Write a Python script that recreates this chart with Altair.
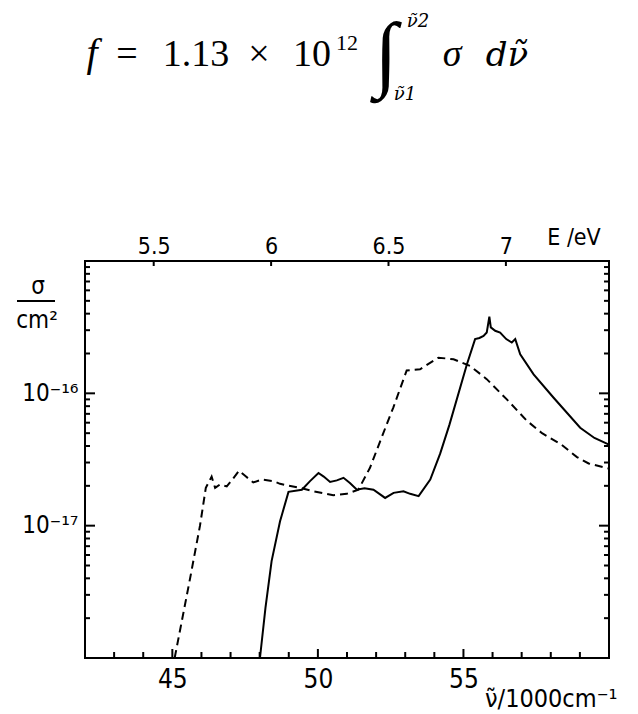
import altair as alt
import pandas as pd

# ---- data (x in 1000 cm^-1, sigma in cm^2) ----
solid_nu = [48.01, 48.20, 48.41, 48.70, 48.76, 48.99, 49.45, 49.73, 50.02, 50.20, 50.42,
            50.65, 50.88, 51.10, 51.34, 51.60, 51.91, 52.31, 52.60, 52.94, 53.17, 53.46,
            53.86, 54.20, 54.52, 55.12, 55.40, 55.55, 55.69, 55.80, 55.89, 55.94, 56.09,
            56.26, 56.47, 56.66, 56.78, 56.95, 57.41, 58.09, 59.01, 59.50, 60.00]
solid_sigma = [1.0e-18, 2.4e-18, 5.4e-18, 1.08e-17, 1.2e-17, 1.8e-17, 1.87e-17, 2.17e-17,
               2.5e-17, 2.35e-17, 2.14e-17, 2.2e-17, 2.3e-17, 2.1e-17, 1.87e-17, 1.92e-17,
               1.87e-17, 1.62e-17, 1.77e-17, 1.82e-17, 1.74e-17, 1.67e-17, 2.23e-17,
               3.5e-17, 5.8e-17, 1.66e-16, 2.57e-16, 2.62e-16, 2.72e-16, 2.88e-16, 3.79e-16,
               3.15e-16, 2.97e-16, 2.88e-16, 2.57e-16, 2.42e-16, 2.57e-16, 1.97e-16,
               1.39e-16, 9.3e-17, 5.5e-17, 4.6e-17, 4.1e-17]

dashed_nu = [45.08, 45.61, 45.95, 46.15, 46.35, 46.47, 46.64, 46.87, 47.04, 47.29, 47.50,
             47.78, 48.07, 48.47, 48.70, 49.39, 49.85, 50.53, 50.99, 51.39, 51.79, 52.36,
             52.59, 53.05, 53.51, 54.14, 54.66, 55.23, 55.80, 56.49, 57.18, 57.70, 58.36,
             58.90, 59.30, 60.00]
dashed_sigma = [1.0e-18, 4.0e-18, 1.0e-17, 1.93e-17, 2.35e-17, 1.93e-17, 2.05e-17, 1.98e-17,
                2.2e-17, 2.6e-17, 2.38e-17, 2.12e-17, 2.23e-17, 2.17e-17, 2.07e-17, 1.93e-17,
                1.82e-17, 1.70e-17, 1.74e-17, 1.87e-17, 2.74e-17, 5.8e-17, 7.8e-17, 1.49e-16,
                1.52e-16, 1.86e-16, 1.81e-16, 1.61e-16, 1.28e-16, 9.0e-17, 6.2e-17, 5.0e-17,
                4.1e-17, 3.3e-17, 2.95e-17, 2.7e-17]

x_major = [45, 50, 55]
x_minor = [43, 44, 46, 47, 48, 49, 51, 52, 53, 54, 56, 57, 58, 59]
y_major = [1e-17, 1e-16]
y_minor = [k * 10.0 ** e for e in (-18, -17, -16) for k in range(2, 10)]
e_ticks = [5.5, 6.0, 6.5, 7.0]          # eV
EV_TO_KCM = 8.0655                      # 1 eV = 8065.5 cm^-1

W, H = 524, 397
SANS = "Liberation Sans Narrow, DejaVu Sans Condensed, Liberation Sans, sans-serif"
SERIF = "Liberation Serif, DejaVu Serif, serif"
GREEK = "DejaVu Serif, Liberation Serif, serif"

xs = alt.Scale(domain=[42, 60], nice=False, zero=False)
ys = alt.Scale(type="log", domain=[1e-18, 1e-15], nice=False)

df_solid = pd.DataFrame({"nu": solid_nu, "sigma": solid_sigma})
df_dashed = pd.DataFrame({"nu": dashed_nu, "sigma": dashed_sigma})

bottom_axis = alt.Axis(values=x_major, ticks=False, domain=False, grid=False, title=None,
                       labelFont=SANS, labelFontSize=26, labelColor="black", labelPadding=8,
                       orient="bottom")
top_axis = alt.Axis(values=[e * EV_TO_KCM for e in e_ticks], ticks=False, domain=False,
                    grid=False, title=None, orient="top",
                    labelExpr="format(datum.value / 8.0655, '.1~f')",
                    labelFont=SANS, labelFontSize=23, labelColor="black", labelPadding=3)
left_axis = alt.Axis(values=y_major, ticks=False, domain=False, grid=False, title=None,
                     labelExpr="datum.value < 5e-17 ? '10⁻¹⁷' : '10⁻¹⁶'",
                     labelFont=SANS, labelFontSize=24, labelColor="black", labelPadding=7)

solid = alt.Chart(df_solid).mark_line(color="black", strokeWidth=2).encode(
    x=alt.X("nu:Q", scale=xs, axis=bottom_axis),
    y=alt.Y("sigma:Q", scale=ys, axis=left_axis))
dashed = alt.Chart(df_dashed).mark_line(color="black", strokeWidth=2, strokeDash=[8, 5]).encode(
    x=alt.X("nu:Q", scale=xs, axis=None),
    y=alt.Y("sigma:Q", scale=ys, axis=None))


def xticks(vals, length, top=False, axis=None):
    df = pd.DataFrame({"nu": vals})
    y0, y1 = (0, length) if top else (H, H - length)
    return alt.Chart(df).mark_rule(color="black", strokeWidth=2).encode(
        x=alt.X("nu:Q", scale=xs, axis=axis), y=alt.value(y0), y2=alt.value(y1))


def yticks(vals, length, right=False):
    df = pd.DataFrame({"sigma": vals})
    x0, x1 = (W, W - length) if right else (0, length)
    return alt.Chart(df).mark_rule(color="black", strokeWidth=2).encode(
        y=alt.Y("sigma:Q", scale=ys, axis=None), x=alt.value(x0), x2=alt.value(x1))


def label(txt, x, y, size, font=SANS, style="normal", align="center"):
    return alt.Chart(pd.DataFrame({"t": [txt]})).mark_text(
        font=font, fontSize=size, fontStyle=style, align=align,
        baseline="alphabetic", color="black").encode(
        text="t:N", x=alt.value(x), y=alt.value(y))


ticks = [
    xticks(x_major, 9), xticks(x_minor, 6),
    xticks([e * EV_TO_KCM for e in e_ticks], 5, top=True, axis=top_axis),
    yticks(y_major, 10), yticks(y_minor, 5),
    yticks(y_major, 10, right=True), yticks(y_minor, 5, right=True),
]

frac_bar = alt.Chart(pd.DataFrame({"t": [0]})).mark_rule(color="black", strokeWidth=2).encode(
    x=alt.value(-68), x2=alt.value(-30), y=alt.value(40))

texts = [
    # formula  f = 1.13 x 10^12  int_{nu1}^{nu2} sigma d nu
    label("f", 7, -195, 40, font=SERIF, style="italic"),
    label("=", 42, -195, 38, font=SERIF),
    label("1.13", 111, -195, 38, font=SERIF),
    label("×", 174, -195, 38, font=SERIF),
    label("10", 227, -195, 38, font=SERIF),
    label("12", 262, -211, 22, font=SERIF),
    label("∫", 301, -180, 84, font=SERIF),
    label("ν̃2", 333, -234, 18, font=GREEK, style="italic"),
    label("ν̃1", 320, -161, 18, font=GREEK, style="italic"),
    label("σ", 367, -195, 38, font=SERIF, style="italic"),
    label("dν̃", 422, -195, 34, font=GREEK, style="italic"),
    # axis titles
    label("σ", -47, 33, 24),
    label("cm²", -48, 67, 24),
    label("E /eV", 489, -16, 23),
    label("ν̃/1000cm⁻¹", 400, 446, 25, align="left"),
]

chart = alt.layer(solid, dashed, *ticks, frac_bar, *texts).resolve_axis(
    x="independent", y="independent"
).properties(
    width=W, height=H,
    autosize=alt.AutoSizeParams(type="none"),
    padding={"left": 77, "top": 253, "right": 21, "bottom": 56},
    background="white",
).configure_view(stroke="black", strokeWidth=2)

chart.save("out.html", embed_options={"renderer": "svg", "actions": False})
